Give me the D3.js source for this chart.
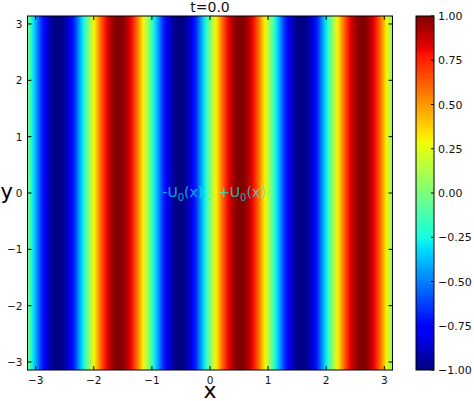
<!DOCTYPE html>
<html>
<head>
<meta charset="utf-8">
<script src="https://cdn.jsdelivr.net/npm/d3@7"></script>
<style>
  html, body { margin: 0; padding: 0; background: #fff; }
  svg { display: block; font-family: "DejaVu Sans", sans-serif; }
</style>
</head>
<body>
<svg id="chart" width="474" height="401"></svg>
<script>
// ---- data ----
const title = "t=0.0";
const xExtent = [-3.1416, 3.1416];
const yExtent = [-3.1416, 3.1416];
// field value along x (uniform along y), 121 samples across xExtent
const u0 = [
  0, -0.16, -0.31, -0.45, -0.59, -0.71, -0.81, -0.89, -0.95, -0.99,
  -1.00, -0.99, -0.95, -0.89, -0.81, -0.71, -0.59, -0.45, -0.31, -0.16,
  0, 0.16, 0.31, 0.45, 0.59, 0.71, 0.81, 0.89, 0.95, 0.99,
  1.00, 0.99, 0.95, 0.89, 0.81, 0.71, 0.59, 0.45, 0.31, 0.16,
  0, -0.16, -0.31, -0.45, -0.59, -0.71, -0.81, -0.89, -0.95, -0.99,
  -1.00, -0.99, -0.95, -0.89, -0.81, -0.71, -0.59, -0.45, -0.31, -0.16,
  0, 0.16, 0.31, 0.45, 0.59, 0.71, 0.81, 0.89, 0.95, 0.99,
  1.00, 0.99, 0.95, 0.89, 0.81, 0.71, 0.59, 0.45, 0.31, 0.16,
  0, -0.16, -0.31, -0.45, -0.59, -0.71, -0.81, -0.89, -0.95, -0.99,
  -1.00, -0.99, -0.95, -0.89, -0.81, -0.71, -0.59, -0.45, -0.31, -0.16,
  0, 0.16, 0.31, 0.45, 0.59, 0.71, 0.81, 0.89, 0.95, 0.99,
  1.00, 0.99, 0.95, 0.89, 0.81, 0.71, 0.59, 0.45, 0.31, 0.16,
  0
];
const xTicks = [-3, -2, -1, 0, 1, 2, 3];
const yTicks = [-3, -2, -1, 0, 1, 2, 3];
const cbTicks = [1.00, 0.75, 0.50, 0.25, 0.00, -0.25, -0.50, -0.75, -1.00];
const cbTickLabels = ["1.00", "0.75", "0.50", "0.25", "0.00", "\u22120.25", "\u22120.50", "\u22120.75", "\u22121.00"];
const valueDomain = [-1, 1];
const annotations = [
  { sign: "-", x: -0.82, y: 0 },
  { sign: "+", x: 0.14, y: 0 }
];
const xLabel = "x";
const yLabel = "y";

// ---- layout ----
const plot = { left: 27.5, right: 392.5, top: 16, bottom: 370 };
const cb = { left: 416, right: 434, top: 16, bottom: 370 };

const svg = d3.select("#chart");
const defs = svg.append("defs");

// matplotlib "jet" colormap
const jr = d3.scaleLinear().domain([0, 0.35, 0.66, 0.89, 1]).range([0, 0, 1, 1, 0.5]).clamp(true);
const jg = d3.scaleLinear().domain([0, 0.125, 0.375, 0.64, 0.91, 1]).range([0, 0, 1, 1, 0, 0]).clamp(true);
const jb = d3.scaleLinear().domain([0, 0.11, 0.34, 0.65, 1]).range([0.5, 1, 1, 0, 0]).clamp(true);
const jet = t => d3.rgb(jr(t) * 255, jg(t) * 255, jb(t) * 255).formatHex();
const norm = d3.scaleLinear().domain(valueDomain).range([0, 1]).clamp(true);
const color = v => jet(norm(v));

const x = d3.scaleLinear().domain(xExtent).range([plot.left, plot.right]);
const y = d3.scaleLinear().domain(yExtent).range([plot.bottom, plot.top]);
const idx = d3.scaleLinear().domain([0, u0.length - 1]).range(xExtent);

// shared field gradient in user space, stops at each sample
const grad = defs.append("linearGradient")
  .attr("id", "field")
  .attr("gradientUnits", "userSpaceOnUse")
  .attr("x1", plot.left).attr("x2", plot.right).attr("y1", 0).attr("y2", 0);
grad.selectAll("stop").data(u0).join("stop")
  .attr("offset", (d, i) => (x(idx(i)) - plot.left) / (plot.right - plot.left))
  .attr("stop-color", d => color(d));

// cells (one per interval between samples)
const cells = u0.slice(0, -1).map((v, i) => ({ i, v }));
svg.append("g").attr("shape-rendering", "crispEdges")
  .selectAll("rect").data(cells).join("rect")
  .attr("x", d => x(idx(d.i)))
  .attr("width", d => Math.min(x(idx(d.i + 1)) - x(idx(d.i)) + 1, plot.right - x(idx(d.i))))
  .attr("y", y(yExtent[1]))
  .attr("height", y(yExtent[0]) - y(yExtent[1]))
  .attr("fill", "url(#field)");

// annotations
annotations.forEach(a => {
  const t = svg.append("text")
    .attr("x", x(a.x)).attr("y", y(a.y) + 4)
    .attr("font-size", 14)
    .attr("fill", "#00ffff").attr("fill-opacity", 0.68);
  t.append("tspan").text(a.sign + "U");
  t.append("tspan").attr("font-size", 10).attr("dy", 4).text("0");
  t.append("tspan").attr("dy", -4).text("(x)");
});

// axes frame and ticks
const frame = svg.append("g");
frame.append("rect")
  .attr("x", plot.left).attr("y", plot.top)
  .attr("width", plot.right - plot.left).attr("height", plot.bottom - plot.top)
  .attr("fill", "none").attr("stroke", "#000").attr("stroke-width", 1);

const tl = 4;
xTicks.forEach(t => {
  frame.append("line").attr("x1", x(t)).attr("x2", x(t)).attr("y1", plot.bottom).attr("y2", plot.bottom - tl).attr("stroke", "#000");
  frame.append("line").attr("x1", x(t)).attr("x2", x(t)).attr("y1", plot.top).attr("y2", plot.top + tl).attr("stroke", "#000");
  frame.append("text").attr("x", x(t)).attr("y", plot.bottom + 14)
    .attr("text-anchor", "middle").attr("font-size", 10.5).attr("fill", "#111")
    .text(t < 0 ? "\u2212" + Math.abs(t) : String(t));
});
yTicks.forEach(t => {
  frame.append("line").attr("x1", plot.left).attr("x2", plot.left + tl).attr("y1", y(t)).attr("y2", y(t)).attr("stroke", "#000");
  frame.append("line").attr("x1", plot.right).attr("x2", plot.right - tl).attr("y1", y(t)).attr("y2", y(t)).attr("stroke", "#000");
  frame.append("text").attr("x", plot.left - 5).attr("y", y(t) + 4)
    .attr("text-anchor", "end").attr("font-size", 10.5).attr("fill", "#111")
    .text(t < 0 ? "\u2212" + Math.abs(t) : String(t));
});

// title and axis labels
svg.append("text").attr("x", (plot.left + plot.right) / 2).attr("y", 12)
  .attr("text-anchor", "middle").attr("font-size", 14).attr("fill", "#111").text(title);
svg.append("text").attr("x", (plot.left + plot.right) / 2).attr("y", 398)
  .attr("text-anchor", "middle").attr("font-size", 22).attr("fill", "#000").text(xLabel);
svg.append("text").attr("x", 0.5).attr("y", 199)
  .attr("text-anchor", "start").attr("font-size", 21).attr("fill", "#000").text(yLabel);

// colorbar
const cy = d3.scaleLinear().domain(valueDomain).range([cb.bottom, cb.top]);
const cbGrad = defs.append("linearGradient").attr("id", "cbgrad")
  .attr("x1", 0).attr("x2", 0).attr("y1", 1).attr("y2", 0);
cbGrad.selectAll("stop").data(d3.range(0, 1.0001, 0.01)).join("stop")
  .attr("offset", d => d).attr("stop-color", d => jet(d));
svg.append("rect")
  .attr("x", cb.left).attr("y", cy(valueDomain[1]))
  .attr("width", cb.right - cb.left).attr("height", cy(valueDomain[0]) - cy(valueDomain[1]))
  .attr("fill", "url(#cbgrad)").attr("stroke", "#000").attr("stroke-width", 1);
cbTicks.forEach((t, i) => {
  svg.append("line").attr("x1", cb.right).attr("x2", cb.right - 3).attr("y1", cy(t)).attr("y2", cy(t)).attr("stroke", "#000");
  svg.append("text").attr("x", cb.right + 4).attr("y", cy(t) + 4)
    .attr("font-size", 11).attr("fill", "#111").text(cbTickLabels[i]);
});
</script>
</body>
</html>
